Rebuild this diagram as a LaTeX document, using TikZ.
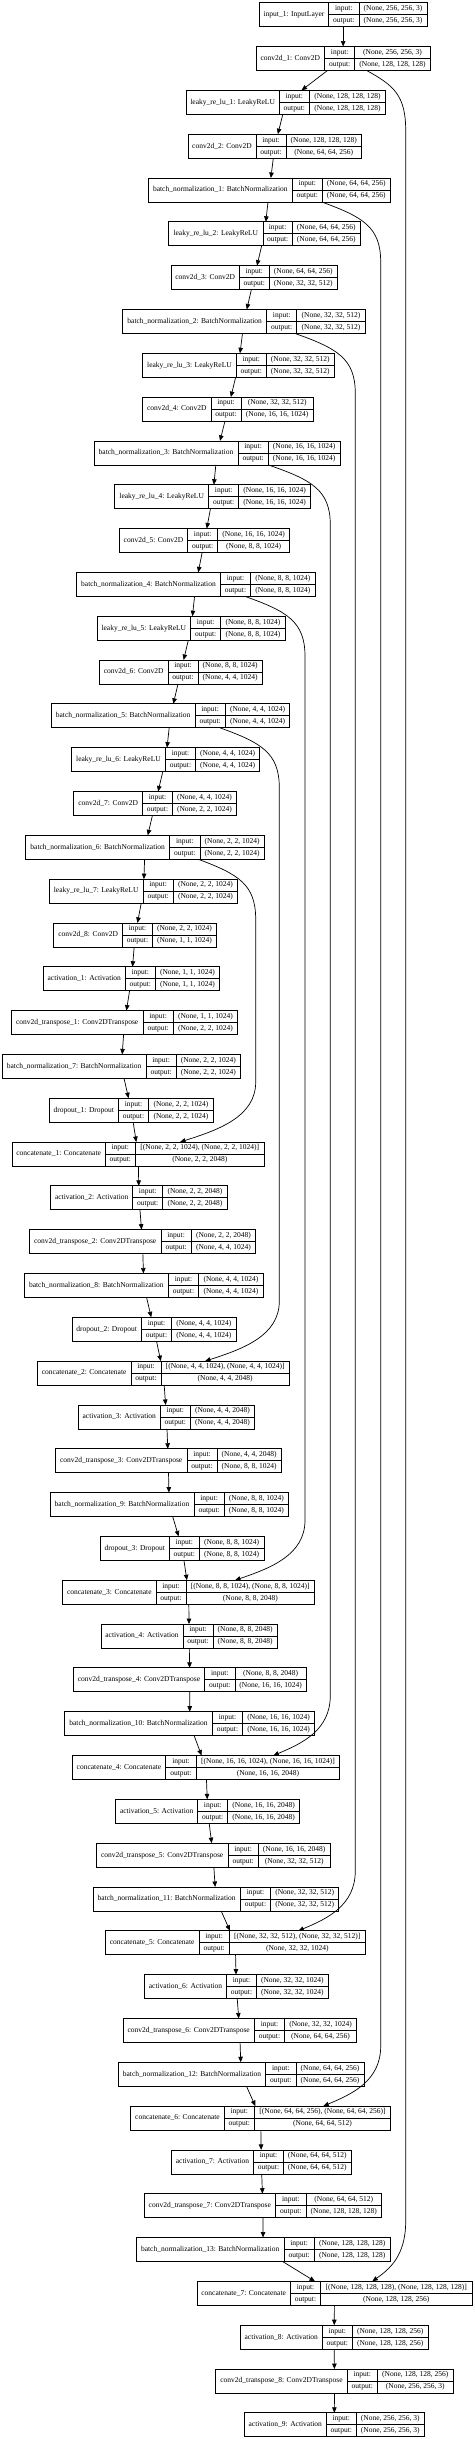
\documentclass[tikz,border=0pt]{standalone}
\usepackage{fontspec}
\setmainfont{Liberation Serif}
\usetikzlibrary{arrows.meta, calc}

% one keras layer: name, row, left, divider 1, divider 2, right, label, input, output
\newcommand\layer[9]{%
  \pgfmathsetmacro\lytop{2.7+43.82*(#2-1)}%
  \pgfmathsetmacro\lw{#6-#3}%
  \node[lbox, minimum width=\lw pt, anchor=north west] (#1) at (#3,\lytop) {};
  \draw[cell] (#4,\lytop) -- ++(0,24) (#5,\lytop) -- ++(0,24) (#4,{\lytop+12}) -- (#6,{\lytop+12});
  \node[txt] (#1-name) at ({(#3+#4)/2},{\lytop+12}) {#7};
  \node[txt] (#1-inl) at ({(#4+#5)/2},{\lytop+6}) {input:};
  \node[txt] (#1-outl) at ({(#4+#5)/2},{\lytop+18}) {output:};
  \node[txt] (#1-in) at ({(#5+#6)/2},{\lytop+6}) {#8};
  \node[txt] (#1-out) at ({(#5+#6)/2},{\lytop+18}) {#9};
}
% skip connection: source, start x, lane x, target, end x
\newcommand\skipline[5]{%
  \draw[arr] (#1.south -| #2,0) .. controls +({0.7*(#3-#2)},15) and +(0,-35) .. ++({#3-#2},60)
    -- ($(#4.north -| #3,0)+(0,-60)$) .. controls +(0,35) and +({0.5*(#3-#5)},-12) .. (#4.north -| #5,0);
}

\begin{document}
\begin{tikzpicture}[
  x=1pt, y=-1pt,
  lbox/.style={draw, rectangle, minimum height=24pt, inner sep=0pt, outer sep=0pt, line width=0.8pt},
  cell/.style={line width=0.8pt},
  txt/.style={inner sep=0pt, font=\fontsize{7.5}{9}\selectfont, text height=5.3pt, text depth=1.6pt},
  arr/.style={-{Triangle[length=5.5pt, width=4.5pt]}, line width=0.7pt},
]
  \useasboundingbox (0,0) rectangle (474,2439);

  % Encoder
  \layer{inp}{1}{259.3}{328.7}{359}{427}{input\_1: InputLayer}{(None, 256, 256, 3)}{(None, 256, 256, 3)}
  \layer{conv1}{2}{256}{324.7}{354.7}{430.3}{conv2d\_1: Conv2D}{(None, 256, 256, 3)}{(None, 128, 128, 128)}
  \layer{lrelu1}{3}{186}{279.3}{309.3}{385.7}{leaky\_re\_lu\_1: LeakyReLU}{(None, 128, 128, 128)}{(None, 128, 128, 128)}
  \layer{conv2}{4}{188}{256}{286}{361.7}{conv2d\_2: Conv2D}{(None, 128, 128, 128)}{(None, 64, 64, 256)}
  \layer{bn1}{5}{148.3}{292.3}{322.3}{390.3}{batch\_normalization\_1: BatchNormalization}{(None, 64, 64, 256)}{(None, 64, 64, 256)}
  \layer{lrelu2}{6}{168.7}{263}{292.3}{360.3}{leaky\_re\_lu\_2: LeakyReLU}{(None, 64, 64, 256)}{(None, 64, 64, 256)}
  \layer{conv3}{7}{171}{239.3}{269.3}{337.3}{conv2d\_3: Conv2D}{(None, 64, 64, 256)}{(None, 32, 32, 512)}
  \layer{bn2}{8}{122.7}{266.7}{296.7}{365.3}{batch\_normalization\_2: BatchNormalization}{(None, 32, 32, 512)}{(None, 32, 32, 512)}
  \layer{lrelu3}{9}{142.7}{236.3}{266.3}{334.3}{leaky\_re\_lu\_3: LeakyReLU}{(None, 32, 32, 512)}{(None, 32, 32, 512)}
  \layer{conv4}{10}{142.7}{211}{241}{313.3}{conv2d\_4: Conv2D}{(None, 32, 32, 512)}{(None, 16, 16, 1024)}
  \layer{bn3}{11}{94}{238}{268.3}{340}{batch\_normalization\_3: BatchNormalization}{(None, 16, 16, 1024)}{(None, 16, 16, 1024)}
  \layer{lrelu4}{12}{114.7}{208.7}{238.7}{310.7}{leaky\_re\_lu\_4: LeakyReLU}{(None, 16, 16, 1024)}{(None, 16, 16, 1024)}
  \layer{conv5}{13}{119.3}{187.7}{217.7}{289.7}{conv2d\_5: Conv2D}{(None, 16, 16, 1024)}{(None, 8, 8, 1024)}
  \layer{bn4}{14}{76.7}{220.3}{250.7}{315}{batch\_normalization\_4: BatchNormalization}{(None, 8, 8, 1024)}{(None, 8, 8, 1024)}
  \layer{lrelu5}{15}{97}{190.7}{220.7}{285.3}{leaky\_re\_lu\_5: LeakyReLU}{(None, 8, 8, 1024)}{(None, 8, 8, 1024)}
  \layer{conv6}{16}{99.3}{168}{198}{262.3}{conv2d\_6: Conv2D}{(None, 8, 8, 1024)}{(None, 4, 4, 1024)}
  \layer{bn5}{17}{51.3}{195}{225.3}{289.7}{batch\_normalization\_5: BatchNormalization}{(None, 4, 4, 1024)}{(None, 4, 4, 1024)}
  \layer{lrelu6}{18}{71.7}{165.3}{195.7}{259.7}{leaky\_re\_lu\_6: LeakyReLU}{(None, 4, 4, 1024)}{(None, 4, 4, 1024)}
  \layer{conv7}{19}{73.7}{142.7}{172.3}{236.7}{conv2d\_7: Conv2D}{(None, 4, 4, 1024)}{(None, 2, 2, 1024)}
  \layer{bn6}{20}{25.7}{169.7}{200}{264.3}{batch\_normalization\_6: BatchNormalization}{(None, 2, 2, 1024)}{(None, 2, 2, 1024)}
  \layer{lrelu7}{21}{49.3}{143}{173.3}{237.7}{leaky\_re\_lu\_7: LeakyReLU}{(None, 2, 2, 1024)}{(None, 2, 2, 1024)}
  \layer{conv8}{22}{53.7}{122.7}{152.3}{216.7}{conv2d\_8: Conv2D}{(None, 2, 2, 1024)}{(None, 1, 1, 1024)}
  \layer{act1}{23}{43.3}{125.3}{155.3}{219.7}{activation\_1: Activation}{(None, 1, 1, 1024)}{(None, 1, 1, 1024)}

  % Decoder
  \layer{tconv1}{24}{11.3}{143}{173.3}{237.7}{conv2d\_transpose\_1: Conv2DTranspose}{(None, 1, 1, 1024)}{(None, 2, 2, 1024)}
  \layer{bn7}{25}{2.3}{146}{176.3}{240.3}{batch\_normalization\_7: BatchNormalization}{(None, 2, 2, 1024)}{(None, 2, 2, 1024)}
  \layer{drop1}{26}{49.3}{118.3}{148.7}{213.3}{dropout\_1: Dropout}{(None, 2, 2, 1024)}{(None, 2, 2, 1024)}
  \layer{cat1}{27}{12}{105.3}{135.3}{264.3}{concatenate\_1: Concatenate}{[(None, 2, 2, 1024), (None, 2, 2, 1024)]}{(None, 2, 2, 2048)}
  \layer{act2}{28}{50.7}{132.7}{162.7}{227.3}{activation\_2: Activation}{(None, 2, 2, 2048)}{(None, 2, 2, 2048)}
  \layer{tconv2}{29}{29.3}{161}{191.3}{255.7}{conv2d\_transpose\_2: Conv2DTranspose}{(None, 2, 2, 2048)}{(None, 4, 4, 1024)}
  \layer{bn8}{30}{24.3}{168.3}{198.7}{263.3}{batch\_normalization\_8: BatchNormalization}{(None, 4, 4, 1024)}{(None, 4, 4, 1024)}
  \layer{drop2}{31}{72}{141.3}{171.7}{236}{dropout\_2: Dropout}{(None, 4, 4, 1024)}{(None, 4, 4, 1024)}
  \layer{cat2}{32}{37.3}{131}{161}{289.3}{concatenate\_2: Concatenate}{[(None, 4, 4, 1024), (None, 4, 4, 1024)]}{(None, 4, 4, 2048)}
  \layer{act3}{33}{78.3}{160.3}{190.3}{254.7}{activation\_3: Activation}{(None, 4, 4, 2048)}{(None, 4, 4, 2048)}
  \layer{tconv3}{34}{55.3}{187}{217}{281.3}{conv2d\_transpose\_3: Conv2DTranspose}{(None, 4, 4, 2048)}{(None, 8, 8, 1024)}
  \layer{bn9}{35}{50}{194}{224.3}{288.3}{batch\_normalization\_9: BatchNormalization}{(None, 8, 8, 1024)}{(None, 8, 8, 1024)}
  \layer{drop3}{36}{100.3}{169.3}{199.3}{264}{dropout\_3: Dropout}{(None, 8, 8, 1024)}{(None, 8, 8, 1024)}
  \layer{cat3}{37}{62.7}{156}{186}{314.7}{concatenate\_3: Concatenate}{[(None, 8, 8, 1024), (None, 8, 8, 1024)]}{(None, 8, 8, 2048)}
  \layer{act4}{38}{101}{183}{213}{277.3}{activation\_4: Activation}{(None, 8, 8, 2048)}{(None, 8, 8, 2048)}
  \layer{tconv4}{39}{73.3}{204.7}{235}{306.3}{conv2d\_transpose\_4: Conv2DTranspose}{(None, 8, 8, 2048)}{(None, 16, 16, 1024)}
  \layer{bn10}{40}{64.7}{212.3}{242.7}{314.7}{batch\_normalization\_10: BatchNormalization}{(None, 16, 16, 1024)}{(None, 16, 16, 1024)}
  \layer{cat4}{41}{72.3}{165.7}{196.3}{339.7}{concatenate\_4: Concatenate}{[(None, 16, 16, 1024), (None, 16, 16, 1024)]}{(None, 16, 16, 2048)}
  \layer{act5}{42}{115.7}{197.7}{227.7}{299.7}{activation\_5: Activation}{(None, 16, 16, 2048)}{(None, 16, 16, 2048)}
  \layer{tconv5}{43}{96.3}{228}{258.3}{330}{conv2d\_transpose\_5: Conv2DTranspose}{(None, 16, 16, 2048)}{(None, 32, 32, 512)}
  \layer{bn11}{44}{93}{240.3}{270.7}{338.7}{batch\_normalization\_11: BatchNormalization}{(None, 32, 32, 512)}{(None, 32, 32, 512)}
  \layer{cat5}{45}{105.3}{199}{229.3}{365.3}{concatenate\_5: Concatenate}{[(None, 32, 32, 512), (None, 32, 32, 512)]}{(None, 32, 32, 1024)}
  \layer{act6}{46}{144.3}{226.7}{256.3}{328.3}{activation\_6: Activation}{(None, 32, 32, 1024)}{(None, 32, 32, 1024)}
  \layer{tconv6}{47}{123}{254.3}{284.7}{356.3}{conv2d\_transpose\_6: Conv2DTranspose}{(None, 32, 32, 1024)}{(None, 64, 64, 256)}
  \layer{bn12}{48}{118.3}{265.7}{296}{364}{batch\_normalization\_12: BatchNormalization}{(None, 64, 64, 256)}{(None, 64, 64, 256)}
  \layer{cat6}{49}{130.7}{224.3}{254.3}{390.7}{concatenate\_6: Concatenate}{[(None, 64, 64, 256), (None, 64, 64, 256)]}{(None, 64, 64, 512)}
  \layer{act7}{50}{171.3}{253.7}{283.3}{351.3}{activation\_7: Activation}{(None, 64, 64, 512)}{(None, 64, 64, 512)}
  \layer{tconv7}{51}{144}{275.7}{306}{381.7}{conv2d\_transpose\_7: Conv2DTranspose}{(None, 64, 64, 512)}{(None, 128, 128, 128)}
  \layer{bn13}{52}{136.3}{284}{314.3}{390}{batch\_normalization\_13: BatchNormalization}{(None, 128, 128, 128)}{(None, 128, 128, 128)}
  \layer{cat7}{53}{197}{290.3}{320.7}{472}{concatenate\_7: Concatenate}{[(None, 128, 128, 128), (None, 128, 128, 128)]}{(None, 128, 128, 256)}
  \layer{act8}{54}{240.3}{322.3}{352.3}{428}{activation\_8: Activation}{(None, 128, 128, 256)}{(None, 128, 128, 256)}
  \layer{tconv8}{55}{215.7}{347.3}{377.3}{453.3}{conv2d\_transpose\_8: Conv2DTranspose}{(None, 128, 128, 256)}{(None, 256, 256, 3)}
  \layer{act9}{56}{244.3}{326.3}{356.3}{424.3}{activation\_9: Activation}{(None, 256, 256, 3)}{(None, 256, 256, 3)}

  % Main chain
  \draw[arr] (inp) -- (conv1);
  \draw[arr] (conv1) -- (lrelu1);
  \draw[arr] (lrelu1) -- (conv2);
  \draw[arr] (conv2) -- (bn1);
  \draw[arr] (bn1) -- (lrelu2);
  \draw[arr] (lrelu2) -- (conv3);
  \draw[arr] (conv3) -- (bn2);
  \draw[arr] (bn2) -- (lrelu3);
  \draw[arr] (lrelu3) -- (conv4);
  \draw[arr] (conv4) -- (bn3);
  \draw[arr] (bn3) -- (lrelu4);
  \draw[arr] (lrelu4) -- (conv5);
  \draw[arr] (conv5) -- (bn4);
  \draw[arr] (bn4) -- (lrelu5);
  \draw[arr] (lrelu5) -- (conv6);
  \draw[arr] (conv6) -- (bn5);
  \draw[arr] (bn5) -- (lrelu6);
  \draw[arr] (lrelu6) -- (conv7);
  \draw[arr] (conv7) -- (bn6);
  \draw[arr] (bn6) -- (lrelu7);
  \draw[arr] (lrelu7) -- (conv8);
  \draw[arr] (conv8) -- (act1);
  \draw[arr] (act1) -- (tconv1);
  \draw[arr] (tconv1) -- (bn7);
  \draw[arr] (bn7) -- (drop1);
  \draw[arr] (drop1) -- (cat1);
  \draw[arr] (cat1) -- (act2);
  \draw[arr] (act2) -- (tconv2);
  \draw[arr] (tconv2) -- (bn8);
  \draw[arr] (bn8) -- (drop2);
  \draw[arr] (drop2) -- (cat2);
  \draw[arr] (cat2) -- (act3);
  \draw[arr] (act3) -- (tconv3);
  \draw[arr] (tconv3) -- (bn9);
  \draw[arr] (bn9) -- (drop3);
  \draw[arr] (drop3) -- (cat3);
  \draw[arr] (cat3) -- (act4);
  \draw[arr] (act4) -- (tconv4);
  \draw[arr] (tconv4) -- (bn10);
  \draw[arr] (bn10) -- (cat4);
  \draw[arr] (cat4) -- (act5);
  \draw[arr] (act5) -- (tconv5);
  \draw[arr] (tconv5) -- (bn11);
  \draw[arr] (bn11) -- (cat5);
  \draw[arr] (cat5) -- (act6);
  \draw[arr] (act6) -- (tconv6);
  \draw[arr] (tconv6) -- (bn12);
  \draw[arr] (bn12) -- (cat6);
  \draw[arr] (cat6) -- (act7);
  \draw[arr] (act7) -- (tconv7);
  \draw[arr] (tconv7) -- (bn13);
  \draw[arr] (bn13) -- (cat7);
  \draw[arr] (cat7) -- (act8);
  \draw[arr] (act8) -- (tconv8);
  \draw[arr] (tconv8) -- (act9);

  % Skip connections
  \skipline{conv1}{366.7}{405.7}{cat7}{372.3}
  \skipline{bn1}{321.7}{380.7}{cat6}{323.3}
  \skipline{bn2}{295}{355.3}{cat5}{298.3}
  \skipline{bn3}{268.3}{330.3}{cat4}{273.3}
  \skipline{bn4}{245}{305}{cat3}{235}
  \skipline{bn5}{220}{279.3}{cat2}{205}
  \skipline{bn6}{198.3}{255.7}{cat1}{180}
\end{tikzpicture}
\end{document}
